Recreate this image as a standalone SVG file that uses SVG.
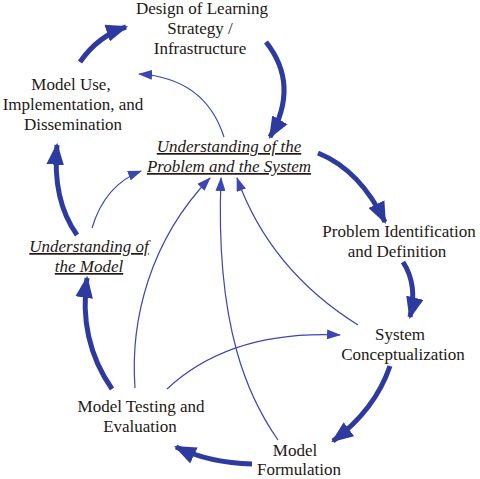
<svg xmlns="http://www.w3.org/2000/svg" width="480" height="479" viewBox="0 0 480 479">
<style>
text{font-family:'Liberation Serif','DejaVu Serif',serif;font-size:17px;fill:#231815;text-anchor:middle}
.u{font-style:italic;text-decoration:underline}
.thick{fill:none;stroke:#2d3a9f;stroke-width:5}
.thin{fill:none;stroke:#3d46b2;stroke-width:1.2}
</style>
<defs>
<marker id="hb" markerUnits="userSpaceOnUse" markerWidth="22" markerHeight="18" refX="18" refY="8" orient="auto" viewBox="0 0 20 16">
<path d="M0,0 L20,8 L0,16 Z" fill="#2d3a9f"/>
</marker>
<marker id="hs" markerUnits="userSpaceOnUse" markerWidth="14" markerHeight="10" refX="13" refY="5" orient="auto" viewBox="0 0 14 10">
<path d="M0,0 L14,5 L0,10 Z" fill="#3d46b2"/>
</marker>
</defs>
<g id="connectors">
<path class="thick" d="M80,62 Q98,36 126,27" marker-end="url(#hb)"/>
<path class="thick" d="M266,42 Q300,85 270,137" marker-end="url(#hb)"/>
<path class="thick" d="M318,153 Q360,170 385,222" marker-end="url(#hb)"/>
<path class="thick" d="M403,262 Q418,285 410,317" marker-end="url(#hb)"/>
<path class="thick" d="M390,366 Q375,410 333,441" marker-end="url(#hb)"/>
<path class="thick" d="M252,464 Q210,463 176,447" marker-end="url(#hb)"/>
<path class="thick" d="M112,389 Q78,340 87,278" marker-end="url(#hb)"/>
<path class="thick" d="M77,235 Q52,200 57,145" marker-end="url(#hb)"/>
<path class="thin" d="M224,137 Q205,78 139,74" marker-end="url(#hs)"/>
<path class="thin" d="M92,228 Q105,185 141,171" marker-end="url(#hs)"/>
<path class="thin" d="M135,388 C130,320 150,240 210,178" marker-end="url(#hs)"/>
<path class="thin" d="M278,440 C250,400 215,330 221,178" marker-end="url(#hs)"/>
<path class="thin" d="M358,325 Q270,270 237,178" marker-end="url(#hs)"/>
<path class="thin" d="M167,389 Q230,330 340,335" marker-end="url(#hs)"/>
</g>
<g id="design">
<text x="202" y="14">Design of Learning</text>
<text x="200" y="34">Strategy /</text>
<text x="200" y="54">Infrastructure</text>
</g>
<g id="model-use">
<text x="71" y="90">Model Use,</text>
<text x="73" y="110">Implementation, and</text>
<text x="73" y="130">Dissemination</text>
</g>
<g id="understanding-problem">
<text class="u" x="229" y="152">Understanding of the</text>
<text class="u" x="229" y="172">Problem and the System</text>
</g>
<g id="problem-identification">
<text x="399" y="237">Problem Identification</text>
<text x="397" y="257">and Definition</text>
</g>
<g id="understanding-model">
<text class="u" x="89" y="252">Understanding of</text>
<text class="u" x="89" y="272">the Model</text>
</g>
<g id="system-conceptualization">
<text x="400" y="340">System</text>
<text x="403" y="360">Conceptualization</text>
</g>
<g id="model-testing">
<text x="141" y="412">Model Testing and</text>
<text x="140" y="432">Evaluation</text>
</g>
<g id="model-formulation">
<text x="295" y="456">Model</text>
<text x="299" y="475">Formulation</text>
</g>
</svg>
